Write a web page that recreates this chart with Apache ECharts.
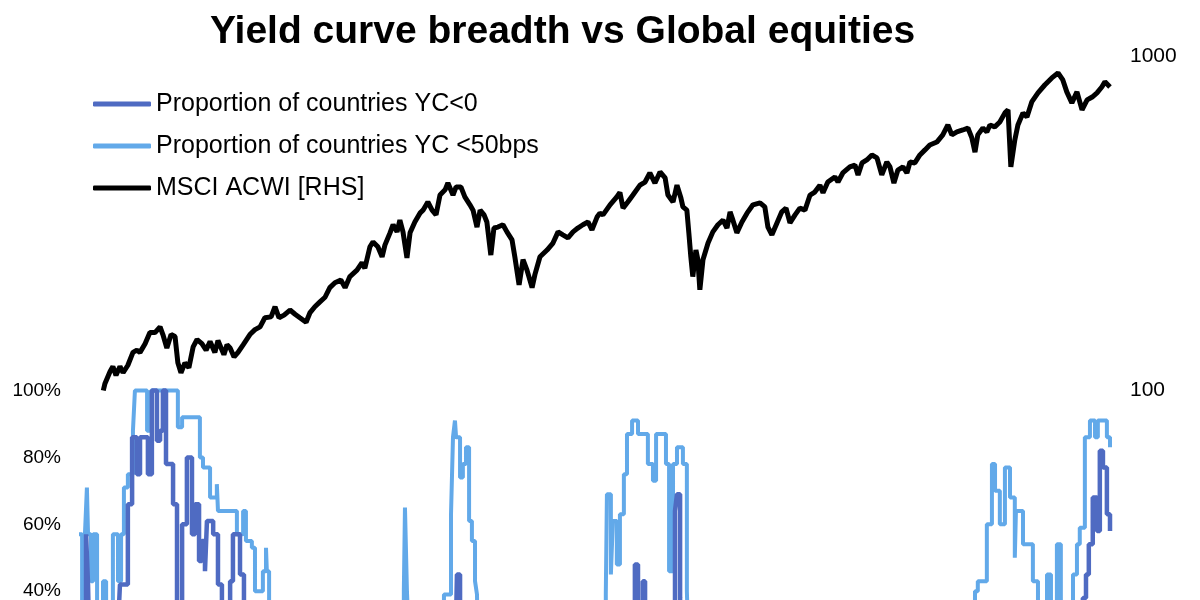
<!DOCTYPE html>
<html><head><meta charset="utf-8">
<script src="https://cdn.jsdelivr.net/npm/echarts@6/dist/echarts.min.js"></script>
<style>html,body{margin:0;padding:0;background:#fff;overflow:hidden}#chart{width:1200px;height:760px}</style>
</head><body><div id="chart"></div>
<script>
const titleText = 'Yield curve breadth vs Global equities';
const seriesNames = ['Proportion of countries YC<0', 'Proportion of countries YC <50bps', 'MSCI ACWI [RHS]'];
const leftTicks = [0, 20, 40, 60, 80, 100];
const rightTicks = [10, 100, 1000];

// Proportion of countries with inverted curve (YC<0), % — step change points
const ycNegDates = [1987.25,1987.50,1987.57,1987.64,1988.63,1988.70,1988.98,1989.13,1989.30,1989.41,1989.69,1989.83,1990.01,1990.12,1990.22,1990.33,1990.58,1990.72,1990.90,1991.07,1991.25,1991.36,1991.50,1991.60,1991.71,1991.78,1992.00,1992.17,1992.31,1992.60,1992.70,1992.95,1993.09,1993.48,1994.36,2000.56,2000.63,2000.74,2001.09,2006.05,2006.75,2006.93,2007.04,2007.21,2007.29,2007.82,2008.17,2008.35,2008.42,2008.53,2008.56,2008.88,2019.14,2019.50,2019.85,2020.21,2021.98,2022.51,2022.79,2022.90,2023.00,2023.14,2023.29,2023.39,2023.50,2023.64,2023.75];
const ycNegValues = [29,57,42,14,29,42,66,86,75,86,75,100,85,88,100,78,66,35,60,80,57,66,49,55,46,61,57,42,30,43,57,45,29,14,0,14,45,14,0,14,29,48,29,43,29,14,29,64,69,38,14,0,7,14,7,0,7,20,38,45,54,68,58,82,77,63,58];

// Proportion of countries with curve below 50bps, % — step change points
const yc50Dates = [1987.25,1987.36,1987.46,1987.53,1987.57,1987.67,1987.75,1987.89,1988.10,1988.21,1988.45,1988.63,1988.74,1988.84,1988.98,1989.16,1989.23,1989.66,1989.80,1990.75,1990.90,1991.53,1991.64,1991.89,1992.13,1992.17,1992.84,1993.06,1993.16,1993.37,1993.48,1993.76,1993.87,1993.90,1993.98,1994.19,1994.72,1995.78,1996.84,1997.90,1998.61,1998.75,1998.79,1998.86,1998.93,1999.50,2000.03,2000.17,2000.42,2000.49,2000.56,2000.60,2000.74,2000.84,2000.95,2001.06,2001.16,2001.27,2001.34,2001.37,2001.80,2002.86,2004.28,2005.16,2005.69,2005.90,2005.94,2006.08,2006.15,2006.29,2006.40,2006.54,2006.65,2006.83,2007.04,2007.39,2007.57,2007.68,2008.03,2008.14,2008.28,2008.42,2008.63,2008.77,2008.84,2009.23,2010.65,2012.77,2014.54,2016.31,2017.73,2018.61,2018.97,2019.07,2019.39,2019.57,2019.68,2019.85,2020.03,2020.21,2020.38,2020.42,2020.67,2021.02,2021.20,2021.52,2021.66,2021.87,2022.01,2022.44,2022.58,2022.68,2022.86,2023.04,2023.22,2023.32,2023.64,2023.75];
const yc50Values = [57,29,57,71,57,43,57,29,43,29,57,43,57,71,75,88,100,88,100,89,92,80,77,68,72,64,57,64,55,53,40,46,53,46,33,25,17,8,0,8,17,40,65,40,25,17,30,39,63,86,91,86,74,78,83,61,55,43,39,20,8,0,8,17,30,39,69,45,61,48,63,75,87,91,87,78,73,87,78,46,78,83,78,40,20,8,0,5,10,14,20,30,40,43,60,78,70,60,77,68,50,64,54,43,25,45,25,54,30,45,54,59,86,91,86,91,86,83];

// MSCI ACWI index level (log scale, RHS)
const msciDates = [1988.11,1988.17,1988.35,1988.45,1988.56,1988.70,1988.81,1988.98,1989.16,1989.30,1989.41,1989.59,1989.76,1989.94,1990.12,1990.22,1990.36,1990.51,1990.65,1990.75,1990.86,1991.00,1991.14,1991.29,1991.43,1991.60,1991.75,1991.89,1992.06,1992.17,1992.38,1992.49,1992.60,1992.74,1992.88,1993.06,1993.30,1993.48,1993.66,1993.83,1994.05,1994.19,1994.33,1994.51,1994.72,1994.90,1995.07,1995.29,1995.43,1995.60,1995.78,1995.96,1996.13,1996.31,1996.52,1996.67,1996.84,1997.09,1997.27,1997.37,1997.55,1997.66,1997.83,1997.98,1998.08,1998.26,1998.37,1998.51,1998.61,1998.72,1998.86,1998.97,1999.14,1999.32,1999.43,1999.60,1999.75,1999.89,2000.03,2000.21,2000.31,2000.49,2000.60,2000.77,2000.91,2001.09,2001.20,2001.34,2001.45,2001.59,2001.69,2001.83,2001.94,2002.08,2002.26,2002.40,2002.58,2002.68,2002.83,2002.97,2003.11,2003.29,2003.39,2003.57,2003.82,2004.03,2004.21,2004.38,2004.56,2004.74,2004.91,2005.09,2005.27,2005.41,2005.59,2005.69,2005.80,2006.05,2006.29,2006.40,2006.51,2006.68,2006.86,2007.11,2007.29,2007.46,2007.64,2007.82,2008.00,2008.10,2008.28,2008.42,2008.56,2008.63,2008.77,2008.84,2008.91,2008.98,2009.09,2009.16,2009.23,2009.34,2009.52,2009.69,2009.87,2010.05,2010.19,2010.30,2010.40,2010.54,2010.72,2010.90,2011.11,2011.36,2011.53,2011.64,2011.78,2011.96,2012.13,2012.28,2012.42,2012.60,2012.77,2012.95,2013.13,2013.30,2013.48,2013.59,2013.76,2014.01,2014.12,2014.29,2014.54,2014.72,2014.83,2014.97,2015.14,2015.32,2015.50,2015.67,2015.85,2015.96,2016.10,2016.24,2016.42,2016.56,2016.67,2016.84,2017.02,2017.20,2017.37,2017.62,2017.83,2018.01,2018.15,2018.33,2018.54,2018.72,2018.86,2018.97,2019.07,2019.25,2019.39,2019.50,2019.67,2019.85,2020.03,2020.14,2020.24,2020.38,2020.49,2020.67,2020.81,2020.98,2021.20,2021.44,2021.69,2021.91,2022.08,2022.22,2022.40,2022.58,2022.76,2022.94,2023.12,2023.29,2023.46,2023.57,2023.75];
const msciValues = [100,105,114,118,111,118,113,119,130,132,130,138,149,149,155,147,134,147,145,121,113,121,117,135,142,138,132,140,130,141,128,137,134,126,130,137,147,152,155,165,166,178,165,168,174,169,165,160,171,178,184,190,203,210,214,203,219,229,241,232,269,278,269,251,272,296,313,298,323,298,249,296,319,339,346,366,346,335,384,398,417,384,406,406,379,359,346,308,346,335,319,254,306,308,313,298,282,251,207,246,229,203,222,251,263,276,298,292,286,298,306,313,319,302,330,339,335,359,379,391,351,366,384,411,420,447,417,450,432,384,366,411,376,354,346,296,251,219,263,246,200,246,276,298,313,323,306,342,323,296,319,339,359,364,354,308,292,317,342,351,317,335,351,346,384,392,411,390,420,435,420,447,466,472,441,479,489,506,496,441,482,466,417,456,466,447,482,479,506,524,542,553,581,622,581,593,601,609,569,516,581,609,593,622,614,635,676,690,466,561,622,676,657,729,776,819,860,890,848,781,724,781,690,739,754,776,808,837,808];

const pairs = (d, v) => d.map((t, i) => [t, v[i]]);
const font = 'Liberation Sans, Arial, sans-serif';

const chart = echarts.init(document.getElementById('chart'));
chart.setOption({
  animation: false,
  backgroundColor: '#ffffff',
  title: {
    text: titleText, left: 210, top: 13, padding: 0,
    textStyle: { fontFamily: font, fontSize: 39, fontWeight: 'bold', color: '#000' }
  },
  legend: {
    orient: 'vertical', left: 93, top: 90, padding: 0,
    itemWidth: 58, itemHeight: 5, itemGap: 14, icon: 'roundRect',
    data: seriesNames,
    textStyle: { fontFamily: font, fontSize: 25, color: '#000', lineHeight: 28 }
  },
  grid: { left: 79, right: 90, top: 56, height: 669, containLabel: false },
  xAxis: {
    type: 'value', min: 1987.25, max: 2023.75,
    axisLine: { show: false }, axisTick: { show: false },
    axisLabel: { show: false }, splitLine: { show: false }
  },
  yAxis: [
    {
      type: 'value', min: 0, max: 200, interval: 20, position: 'left',
      axisLine: { show: false }, axisTick: { show: false }, splitLine: { show: false },
      axisLabel: {
        margin: 18, color: '#000', fontFamily: font, fontSize: 19,
        formatter: v => leftTicks.includes(v) ? v + '%' : ''
      }
    },
    {
      type: 'log', logBase: 10, min: 10, max: 1000, position: 'right',
      axisLine: { show: false }, axisTick: { show: false }, splitLine: { show: false },
      axisLabel: {
        margin: 20, color: '#000', fontFamily: font, fontSize: 21,
        formatter: v => rightTicks.includes(Math.round(v)) ? String(Math.round(v)) : ''
      }
    }
  ],
  series: [
    {
      name: seriesNames[1], type: 'line', step: 'end', yAxisIndex: 0, z: 2,
      data: pairs(yc50Dates, yc50Values), showSymbol: false, symbol: 'none', clip: false,
      lineStyle: { color: '#62a9e9', width: 4 }, itemStyle: { color: '#62a9e9' }
    },
    {
      name: seriesNames[0], type: 'line', step: 'end', yAxisIndex: 0, z: 3,
      data: pairs(ycNegDates, ycNegValues), showSymbol: false, symbol: 'none', clip: false,
      lineStyle: { color: '#4f6bc2', width: 4.5 }, itemStyle: { color: '#4f6bc2' }
    },
    {
      name: seriesNames[2], type: 'line', yAxisIndex: 1, z: 4,
      data: pairs(msciDates, msciValues), showSymbol: false, symbol: 'none', clip: false,
      lineStyle: { color: '#000', width: 5 }, itemStyle: { color: '#000' }
    }
  ]
});
</script>
</body></html>
